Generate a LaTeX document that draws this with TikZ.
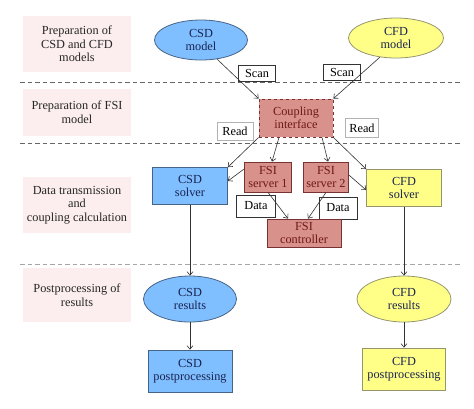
\documentclass[tikz,border=0pt]{standalone}
\usepackage{fontspec}
\setmainfont{Liberation Serif}
\usepackage{xcolor}
\usepackage{tikz}
\usetikzlibrary{shapes.geometric, arrows.meta, positioning}
\definecolor{csdblue}{RGB}{128, 191, 255}
\definecolor{csdedge}{RGB}{70, 100, 135}
\definecolor{cfdyellow}{RGB}{255, 255, 136}
\definecolor{cfdedge}{RGB}{150, 150, 110}
\definecolor{fsired}{RGB}{217, 145, 140}
\definecolor{fsiedge}{RGB}{120, 50, 50}
\definecolor{fsitext}{RGB}{110, 25, 25}
\definecolor{stagepink}{RGB}{252, 238, 238}
\definecolor{textnavy}{RGB}{25, 35, 80}

\tikzset{
    stage/.style={fill=stagepink, minimum width=108pt, align=center, inner sep=0pt, text=black!85},
    model/.style={ellipse, draw, thick, align=center, inner sep=0pt, text=textnavy},
    block/.style={rectangle, draw, thick, align=center, inner sep=0pt, text=textnavy},
    fsibox/.style={block, fill=fsired, draw=fsiedge, text=fsitext},
    tag/.style={rectangle, draw, fill=white, align=center, inner sep=0pt},
    link/.style={-{Straight Barb[length=3.5pt, width=6pt]}, black!80, semithick},
    stageline/.style={dashed, dash pattern=on 4.5pt off 3pt, line width=1pt}
}

\begin{document}
\begin{tikzpicture}[x=1pt, y=-1pt, font=\fontsize{12.3}{13.5}\selectfont]
\useasboundingbox (0,0) rectangle (474,408);

% Stage labels on the left
\node[stage, minimum height=56pt] (stageA) at (77,44) {Preparation of\\CSD and CFD\\models};
\node[stage, minimum height=47pt] (stageB) at (77,112) {Preparation of FSI\\model};
\node[stage, minimum height=56pt] (stageC) at (77,205) {Data transmission\\and\\coupling calculation};
\node[stage, minimum height=54pt] (stageD) at (77,295) {Postprocessing of\\results};

% Stage separators
\draw[stageline, black!60] (20,82) -- (460,82);
\draw[stageline, black!60] (20,143) -- (460,143);
\draw[stageline, black!35] (20,264) -- (460,264);

% Models
\node[model, fill=csdblue, draw=csdedge, minimum width=93pt, minimum height=40pt] (csdmodel) at (201,40) {CSD\\model};
\node[model, fill=cfdyellow, draw=cfdedge, minimum width=95pt, minimum height=40pt] (cfdmodel) at (396,38) {CFD\\model};
\node[tag, draw=black!80, minimum width=37pt, minimum height=16pt] (scanL) at (257,73) {Scan};
\node[tag, draw=black!80, minimum width=37pt, minimum height=16pt] (scanR) at (342,72) {Scan};

% FSI model
\node[fsibox, dashed, minimum width=74pt, minimum height=38pt] (coupling) at (296,118) {Coupling\\interface};
\node[tag, draw=black!30, minimum width=36pt, minimum height=18pt] (readL) at (235,131) {Read};
\node[tag, draw=black!30, minimum width=33pt, minimum height=19pt] (readR) at (362,128) {Read};

% Solvers, servers and controller
\node[block, fill=csdblue, draw=csdedge, minimum width=75pt, minimum height=37pt] (csdsolver) at (190,186) {CSD\\solver};
\node[fsibox, minimum width=47pt, minimum height=30pt] (server1) at (268,177) {FSI\\server 1};
\node[fsibox, minimum width=45pt, minimum height=30pt] (server2) at (326,177) {FSI\\server 2};
\node[block, fill=cfdyellow, draw=cfdedge, minimum width=75pt, minimum height=37pt] (cfdsolver) at (404,188) {CFD\\solver};
\node[tag, draw=black!80, minimum width=39pt, minimum height=22pt] (dataL) at (256,206) {Data};
\node[tag, draw=black!80, minimum width=38pt, minimum height=22pt] (dataR) at (338,208) {Data};
\node[fsibox, minimum width=74pt, minimum height=28pt] (controller) at (304,233) {FSI\\controller};

% Results and postprocessing
\node[model, fill=csdblue, draw=csdedge, minimum width=93pt, minimum height=46pt] (csdresults) at (190,299) {CSD\\results};
\node[model, fill=cfdyellow, draw=cfdedge, minimum width=94pt, minimum height=46pt] (cfdresults) at (404,299) {CFD\\results};
\node[block, fill=csdblue, draw=csdedge, minimum width=84pt, minimum height=42pt] (csdpost) at (190,371) {CSD\\postprocessing};
\node[block, fill=cfdyellow, draw=cfdedge, minimum width=83pt, minimum height=42pt] (cfdpost) at (404,369) {CFD\\postprocessing};

% Connections
\draw[link] (csdmodel.-50) -- (coupling.north west);
\draw[link] (cfdmodel.-130) -- (coupling.north east);
\draw[link] (coupling.south west) -- (csdsolver.north east);
\draw[link] ([xshift=-17pt]coupling.south) -- ([xshift=4pt]server1.north);
\draw[link] ([xshift=26pt]coupling.south) -- ([xshift=2pt]server2.north);
\draw[link] (coupling.south east) -- (cfdsolver.north west);
\draw[link] ([yshift=8pt]server1.west) -- ([yshift=5pt]csdsolver.east);
\draw[link] ([yshift=2pt]server2.east) -- ([yshift=-2pt]cfdsolver.west);
\draw[link] (server1.south) -- ([xshift=-16pt]controller.north);
\draw[link] (server2.south) -- ([xshift=4pt]controller.north);
\draw[link] (csdsolver) -- (csdresults);
\draw[link] (cfdsolver) -- (cfdresults);
\draw[link] (csdresults) -- (csdpost);
\draw[link] (cfdresults) -- (cfdpost);
\end{tikzpicture}
\end{document}
